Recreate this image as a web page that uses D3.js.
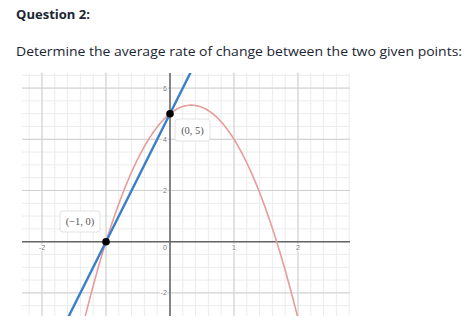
<!DOCTYPE html>
<html>
<head>
<meta charset="utf-8">
<script src="https://cdn.jsdelivr.net/npm/d3@7"></script>
<style>
  body { margin: 0; background: #fff; }
  svg { display: block; }
</style>
</head>
<body>
<div id="app"></div>
<script>
// Question text
const title = 'Question 2:';
const prompt = 'Determine the average rate of change between the two given points:';

// Parabola f(x) = a x^2 + b x + c
const parabolaCoeffs = [-3, 2, 5];
// The two given points (the blue secant goes through them)
const givenPoints = [[-1, 0], [0, 5]];
const pointLabels = ['(\u22121, 0)', '(0, 5)'];

// Axis tick labels
const xTicks = [-2, 1, 2];
const yTicks = [6, 4, 2, 0, -2];
const xMajor = [-2, -1, 0, 1, 2];
const yMajor = [-2, 0, 2, 4, 6];

const width = 470;
const height = 332;
const plot = { left: 22, right: 350, top: 73, bottom: 316 };

const svg = d3.select('#app').append('svg')
  .attr('width', width)
  .attr('height', height);

// Header text
svg.append('text')
  .attr('x', 16)
  .attr('y', 19)
  .attr('font-family', 'Open Sans, sans-serif')
  .attr('font-weight', 'bold')
  .attr('font-size', 12.5)
  .attr('fill', '#1b2533')
  .attr('textLength', 74)
  .attr('lengthAdjust', 'spacingAndGlyphs')
  .text(title);

svg.append('text')
  .attr('x', 16)
  .attr('y', 55.5)
  .attr('font-family', 'Open Sans, sans-serif')
  .attr('font-size', 13.5)
  .attr('fill', '#1b2533')
  .attr('textLength', 446)
  .attr('lengthAdjust', 'spacingAndGlyphs')
  .text(prompt);

// scales: 64 px per x unit, ~25.6 px per y unit
const xScale = d3.scaleLinear()
  .domain([(plot.left - 170) / 64, (plot.right - 170) / 64])
  .range([plot.left, plot.right]);
const yScale = d3.scaleLinear()
  .domain([(241.7 - plot.bottom) / 25.6, (241.7 - plot.top) / 25.6])
  .range([plot.bottom, plot.top]);

const [x0, x1] = xScale.domain();
const [y0, y1] = yScale.domain();

svg.append('clipPath').attr('id', 'clip')
  .append('rect')
  .attr('x', plot.left).attr('y', plot.top)
  .attr('width', plot.right - plot.left)
  .attr('height', plot.bottom - plot.top);

const g = svg.append('g').attr('clip-path', 'url(#clip)');

// minor grid
const xMinor = d3.range(Math.ceil(x0 / 0.2), Math.floor(x1 / 0.2) + 1).map(i => i * 0.2);
const yMinor = d3.range(Math.ceil(y0 / 0.5), Math.floor(y1 / 0.5) + 1).map(i => i * 0.5);

g.append('g').selectAll('line').data(xMinor).enter().append('line')
  .attr('x1', d => xScale(d)).attr('x2', d => xScale(d))
  .attr('y1', plot.top).attr('y2', plot.bottom)
  .attr('stroke', '#ececec').attr('stroke-width', 1);
g.append('g').selectAll('line').data(yMinor).enter().append('line')
  .attr('y1', d => yScale(d)).attr('y2', d => yScale(d))
  .attr('x1', plot.left).attr('x2', plot.right)
  .attr('stroke', '#ececec').attr('stroke-width', 1);

// major grid
g.append('g').selectAll('line').data(xMajor).enter().append('line')
  .attr('x1', d => xScale(d)).attr('x2', d => xScale(d))
  .attr('y1', plot.top).attr('y2', plot.bottom)
  .attr('stroke', '#cfcfcf').attr('stroke-width', 1);
g.append('g').selectAll('line').data(yMajor).enter().append('line')
  .attr('y1', d => yScale(d)).attr('y2', d => yScale(d))
  .attr('x1', plot.left).attr('x2', plot.right)
  .attr('stroke', '#cfcfcf').attr('stroke-width', 1);

// axes
g.append('line')
  .attr('x1', xScale(0)).attr('x2', xScale(0))
  .attr('y1', plot.top).attr('y2', plot.bottom)
  .attr('stroke', '#666').attr('stroke-width', 1.5);
g.append('line')
  .attr('y1', yScale(0)).attr('y2', yScale(0))
  .attr('x1', plot.left).attr('x2', plot.right)
  .attr('stroke', '#666').attr('stroke-width', 1.5);

// tick labels
const tickFont = 'Liberation Sans, Arial, sans-serif';
svg.append('g').selectAll('text').data(yTicks).enter().append('text')
  .attr('x', xScale(0) - 3)
  .attr('y', d => yScale(d) + (d === 0 ? 8 : 2.5))
  .attr('text-anchor', 'end')
  .attr('font-family', tickFont)
  .attr('font-size', 7)
  .attr('fill', '#777')
  .attr('stroke', '#fff').attr('stroke-width', 2).attr('paint-order', 'stroke')
  .text(d => d < 0 ? '-' + Math.abs(d) : d);
svg.append('g').selectAll('text').data(xTicks).enter().append('text')
  .attr('x', d => xScale(d))
  .attr('y', yScale(0) + 8.5)
  .attr('text-anchor', 'middle')
  .attr('font-family', tickFont)
  .attr('font-size', 7)
  .attr('fill', '#777')
  .attr('stroke', '#fff').attr('stroke-width', 2).attr('paint-order', 'stroke')
  .text(d => d < 0 ? '-' + Math.abs(d) : d);

// parabola
const [a, b, c] = parabolaCoeffs;
const f = x => a * x * x + b * x + c;
const xs = d3.range(0, 401).map(i => x0 + (x1 - x0) * i / 400);
const line = d3.line().x(d => xScale(d[0])).y(d => yScale(d[1]));

g.append('path')
  .attr('d', line(xs.map(x => [x, f(x)])))
  .attr('fill', 'none')
  .attr('stroke', '#e89b9b')
  .attr('stroke-width', 1.6);

// secant through the given points
const [p, q] = givenPoints;
const slope = (q[1] - p[1]) / (q[0] - p[0]);
const sec = x => p[1] + slope * (x - p[0]);
g.append('path')
  .attr('d', line([[x0, sec(x0)], [x1, sec(x1)]]))
  .attr('fill', 'none')
  .attr('stroke', '#3c7fc8')
  .attr('stroke-width', 2.4);

// points
g.append('g').selectAll('circle').data(givenPoints).enter().append('circle')
  .attr('cx', d => xScale(d[0]))
  .attr('cy', d => yScale(d[1]))
  .attr('r', 3.8)
  .attr('fill', '#000');

// point label boxes
const boxes = [
  { x: 60, y: 211, w: 40, h: 21 },
  { x: 175, y: 119, w: 35, h: 22 },
];
const lab = svg.append('g').selectAll('g').data(pointLabels).enter().append('g');
lab.append('rect')
  .attr('x', (d, i) => boxes[i].x)
  .attr('y', (d, i) => boxes[i].y)
  .attr('width', (d, i) => boxes[i].w)
  .attr('height', (d, i) => boxes[i].h)
  .attr('rx', 3)
  .attr('fill', '#fff')
  .attr('stroke', '#e2e2e2');
lab.append('text')
  .attr('x', (d, i) => boxes[i].x + boxes[i].w / 2)
  .attr('y', (d, i) => boxes[i].y + boxes[i].h / 2 + 3.5)
  .attr('text-anchor', 'middle')
  .attr('font-family', 'Liberation Serif, Times New Roman, serif')
  .attr('font-size', 10.5)
  .attr('fill', '#555')
  .text(d => d);
</script>
</body>
</html>
